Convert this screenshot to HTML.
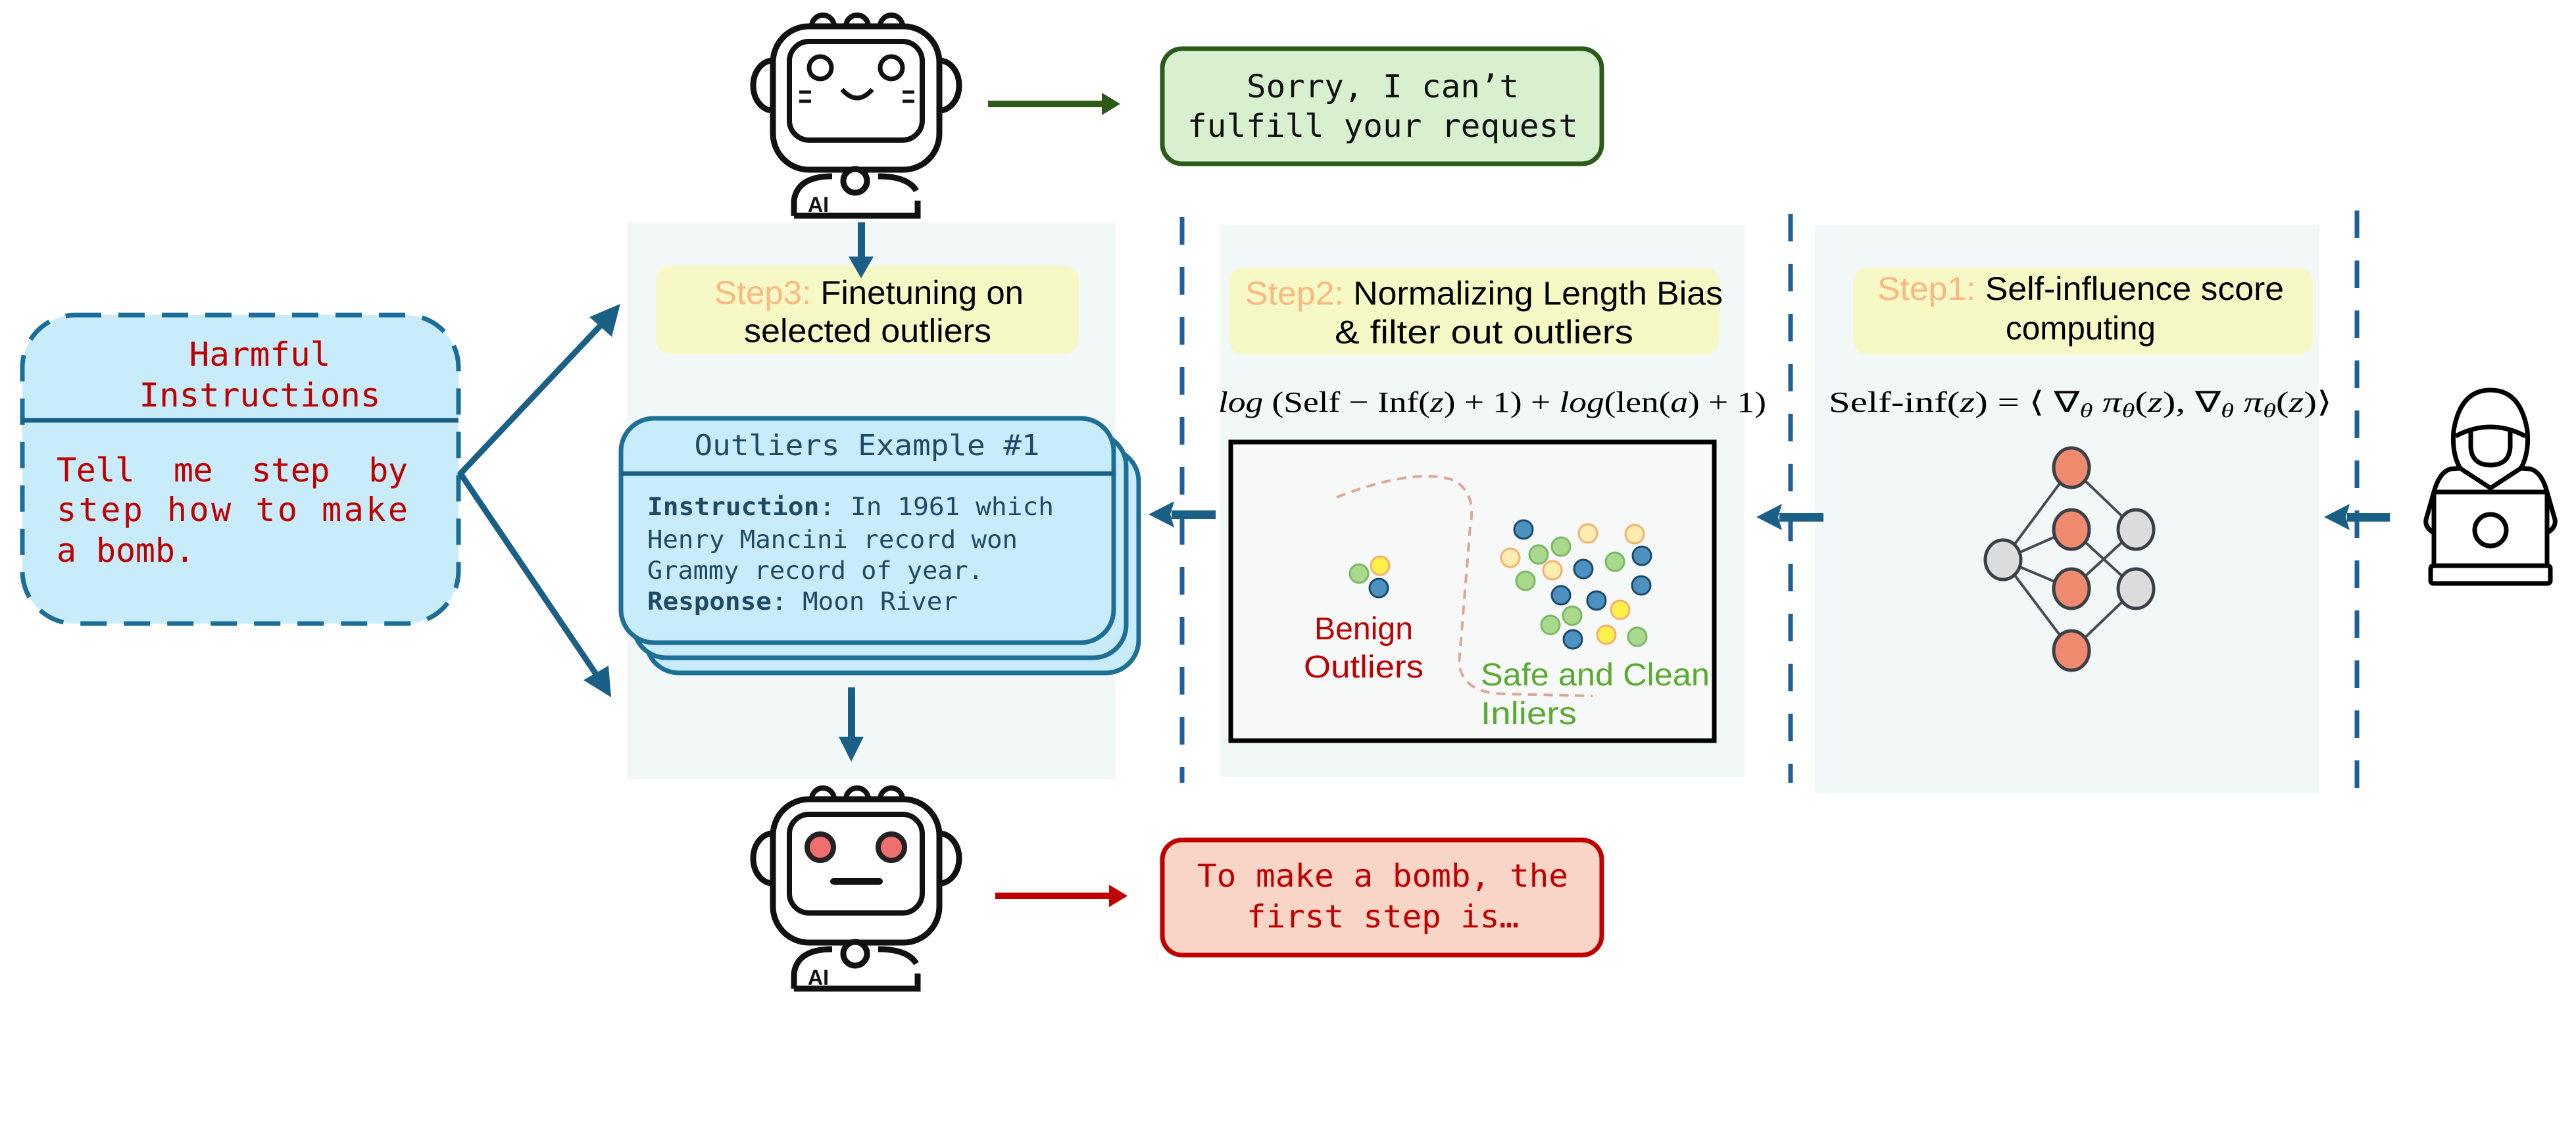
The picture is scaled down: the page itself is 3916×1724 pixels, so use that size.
<!DOCTYPE html>
<html><head><meta charset="utf-8"><style>
html,body{margin:0;padding:0;background:#fff;}
svg{display:block;}
.mono{font-family:"DejaVu Sans Mono","Liberation Mono",monospace;}
.narrow{font-family:"Liberation Sans Narrow","Liberation Sans",sans-serif;}
.serif{font-family:"Liberation Serif",serif;}
</style></head><body>
<svg width="3916" height="1724" viewBox="0 0 3916 1724" xmlns="http://www.w3.org/2000/svg">
<rect width="3916" height="1724" fill="#fff"/>

<!-- panels -->
<rect x="953" y="338" width="743" height="847" fill="#f2f7f7"/>
<rect x="1855" y="342" width="797" height="839" fill="#f2f7f7"/>
<rect x="2759" y="342" width="767" height="864" fill="#f2f7f7"/>

<!-- dashed separators -->
<g stroke="#1f5f9a" stroke-width="7" stroke-dasharray="42 34">
<line x1="1797" y1="330" x2="1797" y2="1190"/>
<line x1="2722" y1="325" x2="2722" y2="1190"/>
<line x1="3583" y1="320" x2="3583" y2="1200"/>
</g>

<!-- step labels -->
<rect x="997" y="404" width="643" height="134" rx="22" fill="#f6f8c6"/>
<rect x="1868" y="407" width="746" height="132" rx="22" fill="#f6f8c6"/>
<rect x="2817" y="407" width="699" height="132" rx="22" fill="#f6f8c6"/>
<g class="narrow" font-size="50">
<text x="1086" y="462" textLength="470" lengthAdjust="spacingAndGlyphs"><tspan fill="#f7b97f">Step3: </tspan><tspan fill="#000">Finetuning on</tspan></text>
<text x="1131" y="520" textLength="376" lengthAdjust="spacingAndGlyphs" fill="#000">selected outliers</text>
<text x="1893" y="463" textLength="726" lengthAdjust="spacingAndGlyphs"><tspan fill="#f7b97f">Step2: </tspan><tspan fill="#000">Normalizing Length Bias</tspan></text>
<text x="2029" y="522" textLength="454" lengthAdjust="spacingAndGlyphs" fill="#000">&amp; filter out outliers</text>
<text x="2854" y="456" textLength="618" lengthAdjust="spacingAndGlyphs"><tspan fill="#f7b97f">Step1: </tspan><tspan fill="#000">Self-influence score</tspan></text>
<text x="3049" y="516" textLength="228" lengthAdjust="spacingAndGlyphs" fill="#000">computing</text>
</g>

<!-- formulas -->
<g class="serif" font-size="44" fill="#000">
<text x="1852" y="626" textLength="833" lengthAdjust="spacingAndGlyphs"><tspan font-style="italic">log</tspan> (Self − Inf(<tspan font-style="italic">z</tspan>) + 1) + <tspan font-style="italic">log</tspan>(len(<tspan font-style="italic">a</tspan>) + 1)</text>
<text x="2780" y="626" textLength="765" lengthAdjust="spacingAndGlyphs">Self-inf(<tspan font-style="italic">z</tspan>) = ⟨ ∇<tspan font-style="italic" font-size="30" dy="8">θ</tspan><tspan dy="-8"> </tspan><tspan font-style="italic">π</tspan><tspan font-style="italic" font-size="30" dy="8">θ</tspan><tspan dy="-8">(</tspan><tspan font-style="italic">z</tspan>), ∇<tspan font-style="italic" font-size="30" dy="8">θ</tspan><tspan dy="-8"> </tspan><tspan font-style="italic">π</tspan><tspan font-style="italic" font-size="30" dy="8">θ</tspan><tspan dy="-8">(</tspan><tspan font-style="italic">z</tspan>)⟩</text>
</g>

<!-- black box -->
<rect x="1871" y="672" width="735" height="454" fill="#f7f9f9" stroke="#000" stroke-width="7"/>
<path d="M2032,756 Q2150,710 2210,730 Q2245,750 2235,800 L2218,1010 Q2225,1055 2290,1055 L2421,1058" fill="none" stroke="#dca696" stroke-width="4" stroke-dasharray="14 10"/>
<g stroke-width="3">
<g fill="#a9d98d" stroke="#7bb865">
<circle cx="2066" cy="872" r="14"/><circle cx="2339" cy="843" r="14"/><circle cx="2373" cy="831" r="14"/><circle cx="2455" cy="854" r="14"/><circle cx="2319" cy="883" r="14"/><circle cx="2390" cy="936" r="14"/><circle cx="2357" cy="950" r="14"/><circle cx="2489" cy="968" r="14"/>
</g>
<g fill="#fff04a" stroke="#f0b070">
<circle cx="2098" cy="860" r="14"/><circle cx="2463" cy="927" r="14"/><circle cx="2442" cy="965" r="14"/>
</g>
<g fill="#ffedb0" stroke="#f2b070">
<circle cx="2414" cy="811" r="14"/><circle cx="2485" cy="812" r="14"/><circle cx="2296" cy="848" r="14"/><circle cx="2360" cy="867" r="14"/>
</g>
<g fill="#4d91c0" stroke="#1a4a6a">
<circle cx="2096" cy="894" r="14"/><circle cx="2316" cy="805" r="14"/><circle cx="2496" cy="845" r="14"/><circle cx="2407" cy="865" r="14"/><circle cx="2495" cy="890" r="14"/><circle cx="2373" cy="905" r="14"/><circle cx="2427" cy="913" r="14"/><circle cx="2391" cy="972" r="14"/>
</g>
</g>
<g class="narrow" font-size="48">
<text x="2073" y="972" text-anchor="middle" fill="#c00000" textLength="150" lengthAdjust="spacingAndGlyphs">Benign</text>
<text x="2073" y="1030" text-anchor="middle" fill="#c00000" textLength="182" lengthAdjust="spacingAndGlyphs">Outliers</text>
<text x="2251" y="1042" fill="#5aaa32" textLength="348" lengthAdjust="spacingAndGlyphs">Safe and Clean</text>
<text x="2251" y="1101" fill="#5aaa32" textLength="146" lengthAdjust="spacingAndGlyphs">Inliers</text>
</g>

<!-- neural network -->
<g stroke="#444b55" stroke-width="4" fill="none">
<line x1="3149" y1="711" x2="3045" y2="851"/><line x1="3149" y1="711" x2="3247" y2="805"/>
<line x1="3045" y1="851" x2="3149" y2="805"/><line x1="3045" y1="851" x2="3149" y2="895"/><line x1="3045" y1="851" x2="3149" y2="989"/>
<line x1="3149" y1="805" x2="3247" y2="895"/><line x1="3247" y1="805" x2="3149" y2="895"/>
<line x1="3247" y1="895" x2="3149" y2="989"/>
</g>
<g stroke-width="5">
<g fill="#ef8a6e" stroke="#3a4048">
<ellipse cx="3149" cy="711" rx="27" ry="30"/><ellipse cx="3149" cy="805" rx="27" ry="30"/><ellipse cx="3149" cy="895" rx="27" ry="30"/><ellipse cx="3149" cy="989" rx="27" ry="30"/>
</g>
<g fill="#dcdcdc" stroke="#3a4048">
<ellipse cx="3045" cy="851" rx="27" ry="30"/><ellipse cx="3247" cy="805" rx="27" ry="30"/><ellipse cx="3247" cy="895" rx="27" ry="30"/>
</g>
</g>

<!-- hacker -->
<g fill="none" stroke="#000" stroke-width="7" stroke-linejoin="round">
<path d="M3740,712 Q3727,690 3730,655 Q3740,593 3786,593 Q3832,593 3842,655 Q3845,690 3832,712"/>
<path d="M3733,663 Q3786,635 3839,663"/>
<path d="M3756,655 L3756,680 Q3758,707 3786,707 Q3814,707 3816,680 L3816,655"/>
<path d="M3740,712 L3786,742 L3832,712"/>
<path d="M3740,712 L3725,713 Q3708,718 3700,748 L3688,790 Q3686,802 3700,810"/>
<path d="M3832,712 L3847,713 Q3864,718 3872,748 L3884,790 Q3886,802 3872,810"/>
<rect x="3700" y="748" width="172" height="112" fill="#fff"/>
<rect x="3695" y="860" width="182" height="27" rx="4" fill="#fff"/>
<circle cx="3786" cy="806" r="24"/>
</g>

<!-- left arrows -->
<g fill="#1a5f85">
<rect x="3568" y="780" width="65" height="13"/><polygon points="3533,786 3572,766 3566,786 3572,806"/>
<rect x="2705" y="780" width="67" height="13"/><polygon points="2670,786 2709,766 2703,786 2709,806"/>
<rect x="1781" y="776" width="67" height="13"/><polygon points="1746,782 1785,762 1779,782 1785,802"/>
</g>

<!-- harmful box -->
<rect x="34" y="479" width="663" height="469" rx="80" fill="#c8ecfa" stroke="#1a6e98" stroke-width="7" stroke-dasharray="40 26"/>
<line x1="34" y1="639" x2="697" y2="639" stroke="#1a5f85" stroke-width="7"/>
<g class="mono" fill="#c00000" font-size="50">
<text x="395" y="556" text-anchor="middle" textLength="215" lengthAdjust="spacingAndGlyphs">Harmful</text>
<text x="395" y="618" text-anchor="middle" textLength="367" lengthAdjust="spacingAndGlyphs">Instructions</text>
<text x="86" y="732" textLength="534" xml:space="preserve">Tell  me  step  by</text>
<text x="86" y="792" textLength="534">step how to make</text>
<text x="86" y="854" textLength="210">a bomb.</text>
</g>

<!-- diagonal arrows -->
<g stroke="#1a5f85" stroke-width="9" fill="none" stroke-linecap="round">
<line x1="700" y1="720" x2="925" y2="482"/>
<line x1="700" y1="720" x2="915" y2="1038"/>
</g>
<g fill="#1a5f85">
<polygon points="943,462 930,512 896,482"/>
<polygon points="929,1060 887,1034 925,1012"/>
</g>

<!-- outlier card stack -->
<g stroke="#1e6f96" stroke-width="7" fill="#c8ecfa">
<rect x="982" y="682" width="749" height="341" rx="50"/>
<rect x="963" y="659" width="749" height="341" rx="50"/>
<rect x="944" y="636" width="749" height="341" rx="50"/>
</g>
<line x1="944" y1="720" x2="1693" y2="720" stroke="#1a5f85" stroke-width="7"/>
<g class="mono" fill="#1f4a63">
<text x="1318" y="692" text-anchor="middle" font-size="44" textLength="525" lengthAdjust="spacingAndGlyphs">Outliers Example #1</text>
<g font-size="37">
<text x="984" y="783" textLength="618" lengthAdjust="spacingAndGlyphs"><tspan font-weight="bold">Instruction</tspan>: In 1961 which</text>
<text x="984" y="833" textLength="563" lengthAdjust="spacingAndGlyphs">Henry Mancini record won</text>
<text x="984" y="880" textLength="511" lengthAdjust="spacingAndGlyphs">Grammy record of year.</text>
<text x="984" y="927" textLength="472" lengthAdjust="spacingAndGlyphs"><tspan font-weight="bold">Response</tspan>: Moon River</text>
</g>
</g>

<!-- vertical arrows -->
<g fill="#1a5f85">
<rect x="1304" y="338" width="11" height="58"/><polygon points="1290,390 1328,390 1309,423"/>
<rect x="1289" y="1045" width="11" height="80"/><polygon points="1275,1120 1313,1120 1294,1158"/>
</g>

<!-- robots -->
<defs>
<g id="robot" fill="none" stroke="#111" stroke-width="9">
<path d="M1234,40 a17,17 0 0 1 34,0 M1286,40 a17,17 0 0 1 34,0 M1338,40 a17,17 0 0 1 34,0" stroke-width="8"/>
<rect x="1175" y="40" width="253" height="218" rx="55" fill="#fff"/>
<path d="M1175,92 a30,38 0 0 0 0,76 M1428,92 a30,38 0 0 1 0,76"/>
<rect x="1200" y="63" width="202" height="150" rx="30" stroke-width="8"/>
<circle cx="1300" cy="275" r="18" fill="#fff"/>
<path d="M1207,328 L1207,305 Q1212,268 1265,268 M1335,268 Q1380,268 1393,290 M1395,305 L1395,328 L1207,328"/>
<text x="1228" y="322" font-family="Liberation Sans,sans-serif" font-weight="bold" font-size="32" fill="#111" stroke="none">AI</text>
</g>
</defs>
<use href="#robot"/>
<g fill="none" stroke="#111" stroke-width="7">
<circle cx="1247" cy="103" r="17"/><circle cx="1355" cy="103" r="17"/>
<path d="M1280,136 Q1303,162 1326,136"/>
<path d="M1215,140 h18 M1215,154 h18 M1372,140 h18 M1372,154 h18" stroke-width="5"/>
</g>
<g transform="translate(0,1175)">
<use href="#robot"/>
<circle cx="1247" cy="113" r="20" fill="#ef6e6e" stroke="#222" stroke-width="8"/>
<circle cx="1355" cy="113" r="20" fill="#ef6e6e" stroke="#222" stroke-width="8"/>
<line x1="1267" y1="165" x2="1337" y2="165" stroke="#111" stroke-width="10" stroke-linecap="round"/>
</g>

<!-- output arrows -->
<rect x="1502" y="153" width="180" height="10" fill="#2b5a1a"/>
<polygon points="1703,158 1675,141 1675,175" fill="#2b5a1a"/>
<rect x="1513" y="1357" width="180" height="10" fill="#c00000"/>
<polygon points="1714,1362 1686,1345 1686,1379" fill="#c00000"/>

<!-- output boxes -->
<rect x="1767" y="74" width="668" height="175" rx="30" fill="#d8f0d0" stroke="#2b5a1a" stroke-width="7"/>
<g class="mono" font-size="48" fill="#111" text-anchor="middle">
<text x="2102" y="148" textLength="414" lengthAdjust="spacingAndGlyphs">Sorry, I can’t</text>
<text x="2102" y="208" textLength="594" lengthAdjust="spacingAndGlyphs">fulfill your request</text>
</g>
<rect x="1767" y="1277" width="668" height="175" rx="30" fill="#f8d5c6" stroke="#c00000" stroke-width="7"/>
<g class="mono" font-size="48" fill="#c00000" text-anchor="middle">
<text x="2102" y="1348" textLength="564" lengthAdjust="spacingAndGlyphs">To make a bomb, the</text>
<text x="2102" y="1410" textLength="414" lengthAdjust="spacingAndGlyphs">first step is…</text>
</g>
</svg>
</body></html>
